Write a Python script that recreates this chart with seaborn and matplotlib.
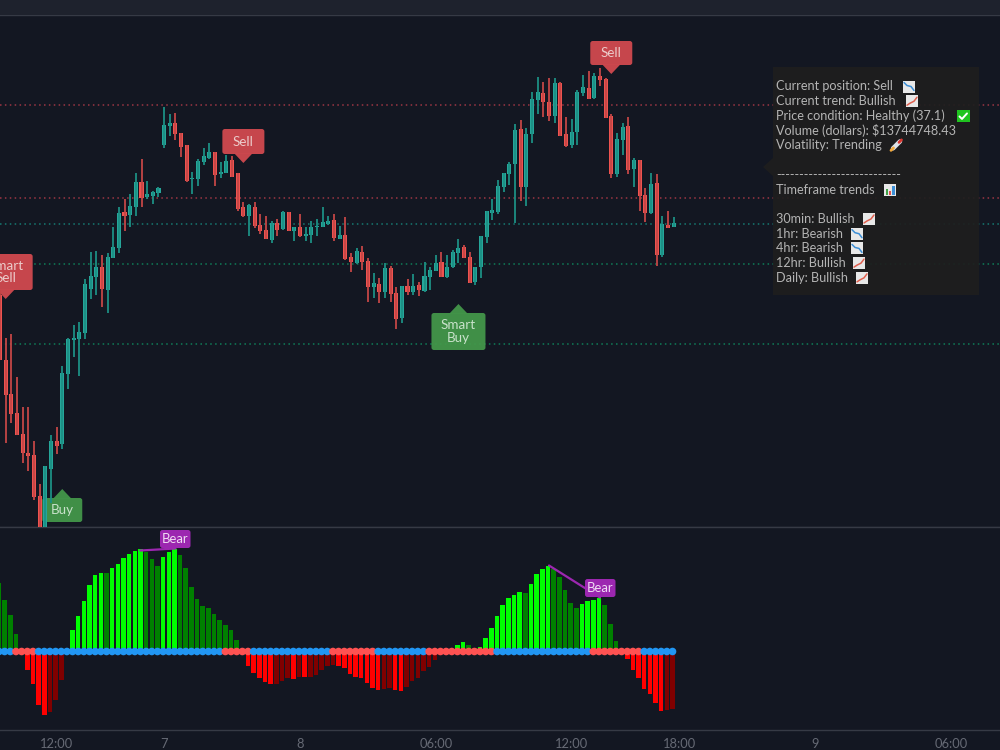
import numpy as np
import pandas as pd
import matplotlib
matplotlib.use("Agg")
import matplotlib.pyplot as plt
from matplotlib.patches import FancyBboxPatch, Polygon, Rectangle
import seaborn as sns

# candles, price (no scale visible, so arbitrary units)
opens = [235, 170, 136, 117, 96, 77, 75, 34, 1, 61, 89, 86, 156, 190, 191, 197, 241, 253, 263, 240,
         272, 282, 318, 315, 323, 348, 333, 334, 337, 385, 404, 407, 397, 385, 351, 351, 368, 372, 378, 356,
         357, 370, 357, 323, 314, 323, 305, 300, 290, 307, 301, 318, 299, 303, 294, 295, 303, 303, 306, 310,
         291, 295, 273, 267, 278, 269, 243, 246, 238, 262, 237, 212, 244, 238, 245, 239, 253, 259, 268, 253,
         263, 277, 283, 273, 248, 263, 293, 317, 318, 343, 356, 366, 401, 343, 396, 430, 437, 428, 414, 447,
         396, 385, 398, 437, 442, 432, 454, 451, 414, 356, 390, 404, 361, 370, 335, 317, 347, 275, 305, 303]
highs = [240, 192, 196, 153, 123, 123, 89, 46, 64, 95, 103, 164, 192, 205, 208, 251, 278, 279, 275, 277,
         303, 323, 331, 336, 357, 371, 349, 339, 343, 423, 416, 417, 397, 385, 358, 371, 382, 387, 378, 368,
         375, 374, 357, 328, 326, 328, 316, 314, 309, 311, 319, 318, 303, 316, 303, 309, 311, 323, 314, 316,
         304, 313, 277, 282, 284, 272, 257, 252, 267, 264, 243, 244, 251, 256, 248, 268, 263, 275, 278, 275,
         280, 291, 285, 278, 263, 294, 319, 331, 350, 357, 368, 406, 410, 402, 438, 453, 448, 452, 452, 448,
         413, 411, 440, 455, 459, 457, 462, 452, 416, 397, 407, 413, 372, 370, 342, 357, 356, 314, 319, 313]
lows = [170, 87, 107, 95, 67, 59, 30, 1, 1, 27, 76, 81, 141, 173, 154, 191, 231, 235, 223, 217,
        272, 277, 299, 303, 314, 323, 331, 326, 333, 382, 394, 390, 373, 348, 336, 344, 365, 371, 344, 352,
        357, 353, 319, 313, 294, 302, 296, 291, 287, 294, 300, 299, 289, 293, 289, 287, 294, 303, 305, 289,
        291, 270, 258, 266, 260, 228, 232, 227, 232, 228, 201, 207, 235, 235, 234, 238, 240, 259, 253, 252,
        262, 267, 272, 247, 245, 252, 287, 310, 316, 338, 345, 307, 329, 324, 387, 416, 413, 409, 407, 394,
        383, 382, 385, 434, 431, 431, 444, 412, 352, 353, 375, 356, 343, 319, 308, 316, 264, 273, 302, 303]
closes = [170, 135, 116, 95, 77, 74, 33, 1, 64, 89, 84, 157, 191, 192, 198, 246, 254, 263, 241, 273,
          283, 317, 314, 324, 348, 332, 336, 338, 342, 405, 407, 396, 383, 349, 352, 369, 374, 378, 355, 358,
          369, 353, 321, 314, 325, 304, 299, 291, 307, 300, 318, 299, 303, 294, 296, 303, 304, 308, 309, 292,
          295, 271, 268, 279, 268, 243, 247, 238, 262, 236, 211, 244, 238, 244, 240, 254, 260, 267, 253, 263,
          278, 282, 272, 247, 263, 294, 319, 320, 344, 357, 366, 400, 343, 396, 431, 438, 428, 414, 447, 394,
          384, 398, 438, 443, 431, 454, 450, 412, 356, 391, 403, 360, 370, 334, 317, 346, 275, 306, 302, 307]

# histogram pane
hist = [69, 52, 37, 18, 0, -18, -32, -53, -63, -60, -48, -28, 0, 22, 36, 51, 67, 77, 79, 79,
        84, 88, 94, 98, 101, 103, 100, 93, 86, 95, 100, 103, 97, 84, 65, 53, 46, 44, 38, 32,
        27, 22, 12, 0, -14, -21, -26, -30, -32, -32, -29, -26, -27, -25, -25.5, -25, -23, -18, -14, -13,
        -14.5, -16, -22, -25, -26, -31, -36, -38, -37, -36, -38, -39, -35, -29, -26, -19, -15, -8, 0, 0,
        0, 7, 10, 7, 4, 5, 14, 24, 36, 47, 54, 57, 60, 59, 68, 78, 83, 86, 83, 75,
        62, 49, 44, 48, 51, 52, 54, 47, 28, 11, 0, -7, -18, -26, -37, -42, -51, -59, -58, -57]
dot_runs = [("blue", 3), ("red", 4), ("blue", 33), ("red", 5), ("blue", 14), ("red", 8), ("blue", 9),
            ("red", 12), ("blue", 17), ("red", 9), ("blue", 6)]

level_prices = [425, 332, 306, 266, 186]
level_kinds = ["res", "res", "mid", "sup", "sup"]

tick_pos = [10, 29, 53, 77, 101, 120, 144, 168]
tick_labels = ["12:00", "7", "8", "06:00", "12:00", "18:00", "9", "06:00"]

# text, bar, price of the tip, box half width, box height, colour
signals = [("Smart\nSell", 1, 231, 27, 36, "sell"),
           ("Sell", 43, 367, 21, 25, "sell"),
           ("Sell", 108, 456, 21, 24, "sell"),
           ("Buy", 11, 41, 20, 24, "buy"),
           ("Smart\nBuy", 81, 226, 27, 37, "buy")]

info_lines = ["Current position: Sell", "Current trend: Bullish", "Price condition: Healthy (37.1)",
              "Volume (dollars): $13744748.43", "Volatility: Trending", "",
              "---------------------------", "Timeframe trends", "",
              "30min: Bullish", "1hr: Bearish", "4hr: Bearish", "12hr: Bullish", "Daily: Bullish"]
info_icons = [("down", 903), ("up", 906), ("check", 957), None, ("rocket", 890), None,
              None, ("bars", 884), None, ("up", 863), ("down", 851), ("down", 851), ("up", 853), ("up", 856)]

BG = "#131722"
UP = "#26a69a"
DOWN = "#ef5350"
GRID = "#363a45"

sns.set_theme(style="dark", rc={"axes.facecolor": BG, "figure.facecolor": BG, "savefig.facecolor": BG})
plt.rcParams["font.family"] = ["Lato", "DejaVu Sans"]

fig = plt.figure(figsize=(10, 7.5), dpi=100)
W, H = 1000.0, 750.0
ax = fig.add_axes([0, 1 - 527 / H, 1, (527 - 15) / H])
ax2 = fig.add_axes([0, 1 - 730 / H, 1, (730 - 527) / H])
over = fig.add_axes([0, 0, 1, 1], facecolor="none", zorder=5)
over.set_xlim(0, W)
over.set_ylim(H, 0)
over.axis("off")
top_ax = fig.add_axes([0, 1 - 527 / H, 1, (527 - 15) / H], facecolor="none", zorder=6)
top_ax.axis("off")

x = np.arange(len(opens))
df = pd.DataFrame({"x": x, "o": opens, "h": highs, "l": lows, "c": closes, "value": hist})
df["up"] = df.c >= df.o
xlim = (0, 1000 / 5.66)
ylim = (3, 515)

# strip above the chart
over.add_patch(Rectangle((0, 0), W, 15, fc="#1e222d", ec="none", zorder=0))

# levels
level_colors = {"res": "#9c3644", "mid": "#167a72", "sup": "#0f7d58"}
for p, k in zip(level_prices, level_kinds):
    ax.axhline(p, color=level_colors[k], lw=1.1, ls=(0, (1, 2.2)), zorder=2)

# signal labels
ax.set_xlim(*xlim)
ax.set_ylim(*ylim)
for text, bar, price, hw, bh, kind in signals:
    px, py = ax.transData.transform((bar, price))
    py = H - py
    col = "#d24a4f" if kind == "sell" else "#43984a"
    if kind == "sell":
        top, bot = py - 9 - bh, py - 9
        tri = [(px - 9, bot - 0.5), (px + 9, bot - 0.5), (px, py)]
    else:
        top, bot = py + 9, py + 9 + bh
        tri = [(px - 9, top + 0.5), (px + 9, top + 0.5), (px, py)]
    over.add_patch(FancyBboxPatch((px - hw + 2, top + 2), 2 * hw - 4, bh - 4, boxstyle="round,pad=2,rounding_size=2.5",
                                  fc=col, ec="none", alpha=0.94, zorder=2))
    over.add_patch(Polygon(tri, closed=True, fc=col, ec="none", alpha=0.94, zorder=2))
    over.text(px, (top + bot) / 2, text, color="#eccccb" if kind == "sell" else "#c9e2cb", fontsize=9.6,
              ha="center", va="center", linespacing=1.05, zorder=3)

# candles
df["body_bottom"] = df[["o", "c"]].min(axis=1)
df["body_height"] = (df.o - df.c).abs().clip(lower=1.5)
colors = [UP if u else DOWN for u in df.up]
wick_colors = ["#1c8f84" if u else "#c44646" for u in df.up]
top_ax.set_xlim(*xlim)
top_ax.set_ylim(*ylim)
top_ax.vlines(df.x, df.l, df.h, colors=wick_colors, lw=1.3)
top_ax.bar(df.x, df.body_height, bottom=df.body_bottom, width=0.72, color=colors, lw=0)

# histogram, bright while the bar grows away from zero, dark otherwise
def bar_state(h, p):
    if h >= 0:
        return "#00ff00" if h > p else "#008000"
    return "#ff0000" if h < p else "#800000"
prev = df.value.shift(1).fillna(df.value.iloc[0] + 1)
df["state"] = [bar_state(h, p) for h, p in zip(df.value, prev)]
palette = {c: c for c in df.state.unique()}
df["hx"] = df.x - 0.18
sns.barplot(data=df, x="hx", y="value", hue="state", palette=palette, native_scale=True,
            dodge=False, legend=False, width=0.8, ax=ax2, saturation=1, linewidth=0)

# bear divergences
ax2.plot([24.8, 31], [101, 103], color="#9c27b0", lw=1.6, zorder=3)
ax2.plot([97, 106], [86, 54], color="#9c27b0", lw=1.6, zorder=3)

# state dots on the zero line
df["dot"] = [name for name, n in dot_runs for _ in range(n)]
df["zero"] = 0
sns.scatterplot(data=df, x="hx", y="zero", hue="dot", palette={"blue": "#2196f3", "red": "#ff5252"},
                s=30, linewidth=0, legend=False, ax=ax2, zorder=4)

ax2.set_xlim(*xlim)
ax2.set_ylim(-78.5, 124.5)
ax2.set_xticks([])
ax2.set_yticks([])
ax2.set_xlabel("")
ax2.set_ylabel("")
ax.set_xticks([])
ax.set_yticks([])
for a in (ax, ax2):
    for s in ("left", "right"):
        a.spines[s].set_visible(False)
    for s in ("top", "bottom"):
        a.spines[s].set_color(GRID)
        a.spines[s].set_linewidth(1.0)

# bear tags
for text, l, r, t, b in [("Bear", 160, 190.5, 530, 548), ("Bear", 585, 615.5, 579, 597)]:
    over.add_patch(FancyBboxPatch((l + 2, t + 2), r - l - 4, b - t - 4, boxstyle="round,pad=2,rounding_size=2.5",
                                  fc="#9c27b0", ec="none", zorder=2))
    over.text((l + r) / 2, (t + b) / 2, text, color="#f0dcf4", fontsize=9.4, ha="center", va="center", zorder=3)

# time axis
for t, lab in zip(tick_pos, tick_labels):
    px, _ = ax2.transData.transform((t, 0))
    over.text(px, 744, lab, color="#666a75", fontsize=9.3, ha="center", va="center")

# info tooltip
over.add_patch(Rectangle((773, 67), 206, 228, fc="#1e1e1e", ec="none", alpha=0.93, zorder=3))
over.add_patch(Polygon([(773, 158), (773, 176), (763, 167)], closed=True, fc="#1e1e1e", ec="none", alpha=0.93, zorder=3))

def icon(kind, ix, cy):
    s = 12
    t, z = cy - s / 2, 4
    if kind in ("down", "up", "bars"):
        over.add_patch(Rectangle((ix, t), s, s, fc="#e8e8e8", ec="none", zorder=z))
    if kind == "down":
        over.plot([ix + 1, ix + 4, ix + 8, ix + 11], [t + 2, t + 5, t + 6, t + 10], color="#3d8fd6", lw=1.1, zorder=z + 1)
    elif kind == "up":
        over.plot([ix + 1, ix + 4, ix + 8, ix + 11], [t + 10, t + 8, t + 6, t + 2], color="#e0604f", lw=1.1, zorder=z + 1)
    elif kind == "bars":
        over.add_patch(Rectangle((ix + 1.5, t + 5), 2.2, 6, fc="#43a047", ec="none", zorder=z + 1))
        over.add_patch(Rectangle((ix + 5, t + 7), 2.2, 4, fc="#e0504f", ec="none", zorder=z + 1))
        over.add_patch(Rectangle((ix + 8.4, t + 2), 2.2, 9, fc="#3d8fd6", ec="none", zorder=z + 1))
    elif kind == "check":
        over.add_patch(Rectangle((ix, t), 12.5, 12.5, fc="#1fc41f", ec="none", zorder=z))
        over.plot([ix + 2.5, ix + 5, ix + 10], [t + 6.5, t + 9, t + 3.5], color="white", lw=1.4, zorder=z + 1)
    elif kind == "rocket":
        over.plot([ix + 3, ix + 10], [t + 9, t + 2], color="#dde3ea", lw=3.2, solid_capstyle="round", zorder=z)
        over.plot([ix + 9, ix + 11.5], [t + 3, t + 0.5], color="#d9362f", lw=2, zorder=z + 1)
        over.plot([ix + 1, ix + 3.5], [t + 11, t + 8.5], color="#f2a93b", lw=2, zorder=z + 1)

for n, (line, ic) in enumerate(zip(info_lines, info_icons)):
    cy = 86.5 + n * 14.72
    if line:
        over.text(776.5, cy, line, color="#b4b4b4", fontsize=9.1, ha="left", va="center", zorder=4)
    if ic:
        icon(ic[0], ic[1], cy)

over.set_xlim(0, W)
over.set_ylim(H, 0)
fig.savefig("out.png", dpi=100, facecolor=BG)
